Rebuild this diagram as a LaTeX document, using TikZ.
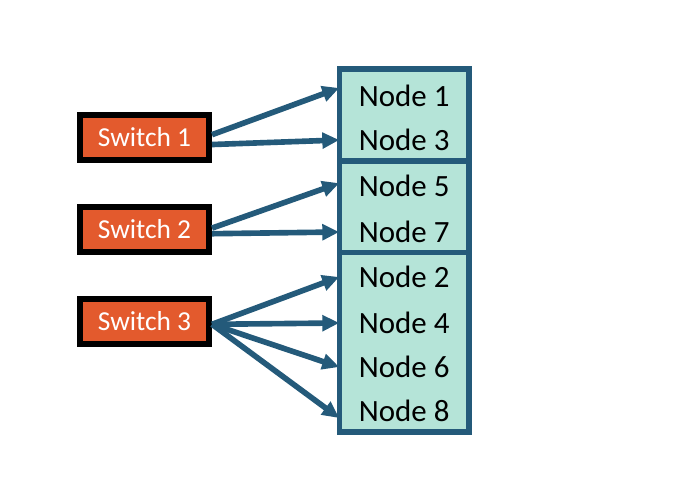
\documentclass[tikz,border=0pt]{standalone}
\usepackage{fontspec}
\setmainfont{Carlito}
\usetikzlibrary{arrows.meta}
\definecolor{swred}{HTML}{E35A2D}
\definecolor{nbblue}{HTML}{245A7A}
\definecolor{nbfill}{HTML}{B5E4D8}

\begin{document}
\begin{tikzpicture}[x=0.025cm,y=-0.025cm,
    >={Triangle[length=12pt,width=11pt]},
    sw/.style={rectangle,draw=black,line width=4pt,fill=swred,text=white,
               font=\fontsize{19.5}{22}\selectfont,minimum width=3.235cm,
               minimum height=1.11cm,inner sep=0pt},
    grp/.style={draw=nbblue,line width=4pt,fill=nbfill},
    ent/.style={minimum width=3.2375cm,inner sep=0pt,
                font=\fontsize{22}{26}\selectfont},
    ar/.style={->,draw=nbblue,fill=nbblue,line width=4pt}]

  \fill[white] (0,0) rectangle (693,484);
  \useasboundingbox (0,0) rectangle (693,484);

  % ---------------- switches
  \node[sw] (s1) at (144.5,137.5) {Switch 1};
  \node[sw] (s2) at (144.5,229.5) {Switch 2};
  \node[sw] (s3) at (144.5,321.5) {Switch 3};

  % ---------------- node groups
  \draw[grp] (339.5,69) rectangle (469,161);
  \draw[grp] (339.5,161) rectangle (469,252.5);
  \draw[grp] (339.5,252.5) rectangle (469,432);

  \node[ent] (n1) at (404.25, 96) {Node 1};
  \node[ent] (n3) at (404.25,140) {Node 3};
  \node[ent] (n5) at (404.25,186) {Node 5};
  \node[ent] (n7) at (404.25,232) {Node 7};
  \node[ent] (n2) at (404.25,277) {Node 2};
  \node[ent] (n4) at (404.25,323) {Node 4};
  \node[ent] (n6) at (404.25,367) {Node 6};
  \node[ent] (n8) at (404.25,411) {Node 8};

  % ---------------- links
  \draw[ar] ([yshift=2pt]s1.east) -- ([yshift=5.7pt]n1.west);
  \draw[ar] ([yshift=-5pt]s1.east) -- (n3.west);
  \draw[ar] ([yshift=1pt]s2.east) -- ([yshift=2pt]n5.west);
  \draw[ar] ([yshift=-3pt]s2.east) -- (n7.west);
  \foreach \t/\s in {n2/0pt,n4/0pt,n6/0pt,n8/-5pt}
    \draw[ar] ([yshift=-2pt]s3.east) -- ([yshift=\s]\t.west);
\end{tikzpicture}
\end{document}
